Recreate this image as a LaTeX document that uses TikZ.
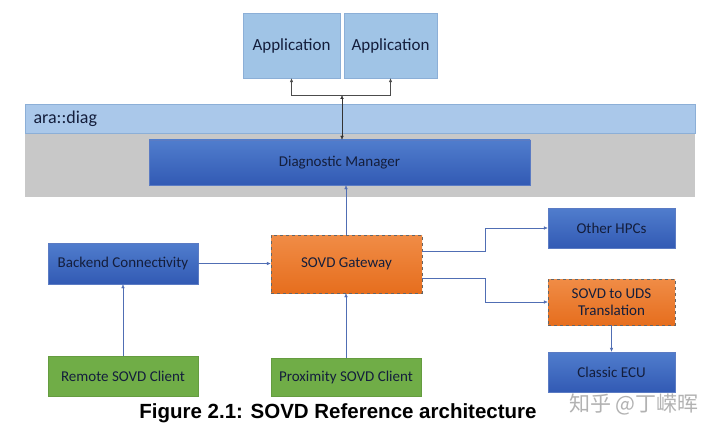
\documentclass[tikz,border=0pt]{standalone}
\usepackage{fontspec}
\setmainfont{Carlito}
\newfontfamily\capfont{Liberation Sans}
\newfontfamily\cjk{Noto Sans CJK SC}
\usetikzlibrary{arrows.meta}
\definecolor{appfill}{RGB}{160,196,230}
\definecolor{appdraw}{RGB}{140,175,215}
\definecolor{bluetop}{RGB}{80,125,205}
\definecolor{bluebot}{RGB}{50,90,180}
\definecolor{orgtop}{RGB}{240,140,70}
\definecolor{orgbot}{RGB}{230,110,30}
\definecolor{grn}{RGB}{112,173,71}
\definecolor{band}{RGB}{170,200,234}
\definecolor{greyarea}{RGB}{200,200,200}
\definecolor{txt}{RGB}{20,30,60}
\definecolor{arr}{RGB}{80,110,180}
\tikzset{x=1pt,y=-1pt,
 box/.style={minimum width=#1, inner sep=0pt, font=\fontsize{15}{17}\selectfont, text=txt, align=center},
 blue/.style={box=#1, top color=bluetop, bottom color=bluebot, draw=bluebot!80},
 orange/.style={box=#1, top color=orgtop, bottom color=orgbot, draw=black!60, dashed},
 green/.style={box=#1, fill=grn, draw=grn!90!black},
 app/.style={box=#1, fill=appfill, draw=appdraw, font=\fontsize{17}{19}\selectfont},
 con/.style={draw=arr, -{Latex[length=4pt,width=3.5pt]}},
 dcon/.style={draw=black!80, {Latex[length=4pt,width=3.5pt]}-{Latex[length=4pt,width=3.5pt]}},
 bcon/.style={draw=black!70, -{Latex[length=4pt,width=3.5pt]}}}
\begin{document}
\begin{tikzpicture}
\useasboundingbox (0,0) rectangle (720,433);
\fill[white] (0,0) rectangle (720,433);
\fill[greyarea] (25,133) rectangle (695,197);
\fill[band] (25,104) rectangle (695,133);
\draw[appdraw] (25,104) rectangle (695,133);
\node[anchor=west, font=\fontsize{18}{20}\selectfont, text=txt] (ara) at (30,119) {ara::diag};
\node[app=97pt, minimum height=65pt] (a1) at (291.5,45.5) {Application};
\node[app=93pt, minimum height=65pt] (a2) at (390.5,45.5) {Application};
\node[blue=381pt, minimum height=45pt] (dm) at (339.5,162.5) {Diagnostic Manager};
\node[orange=151pt, minimum height=58pt] (gw) at (346.5,264) {SOVD Gateway};
\node[blue=150pt, minimum height=41pt] (bc) at (123,263.5) {Backend Connectivity};
\node[green=150pt, minimum height=40pt] (rc) at (123,376) {Remote SOVD Client};
\node[green=150pt, minimum height=38pt] (pc) at (346,377) {Proximity SOVD Client};
\node[blue=127pt, minimum height=40pt] (hpc) at (611.5,228) {Other HPCs};
\node[orange=127pt, minimum height=46pt] (uds) at (611.5,302) {SOVD to UDS\\Translation};
\node[blue=127pt, minimum height=40pt] (ecu) at (611.5,372) {Classic ECU};
\coordinate (j) at (342,95);
\draw[dcon] (j) -- (j |- dm.north);
\draw[bcon] (j) -| (a1.south);
\draw[bcon] (j) -| (a2.south);
\draw[con] (pc.north |- gw.north) -- (pc.north |- dm.south);
\draw[con] (bc.east) -- (gw.west |- bc.east);
\draw[con] (rc.north) -- (bc.south);
\draw[con] (pc.north) -- (pc.north |- gw.south);
\draw[con] (422,251) -- (485,251) |- (hpc.west);
\draw[con] (422,278) -- (485,278) |- (uds.west);
\draw[con] (uds.south) -- (ecu.north);
\node[font=\capfont\bfseries\fontsize{20.5}{23}\selectfont] (cap) at (338,413) {Figure 2.1: SOVD Reference architecture};
\node[font=\cjk\fontsize{21}{23}\selectfont, text=black!30] (wm) at (634,404) {知乎 @丁嵘晖};
\end{tikzpicture}
\end{document}
